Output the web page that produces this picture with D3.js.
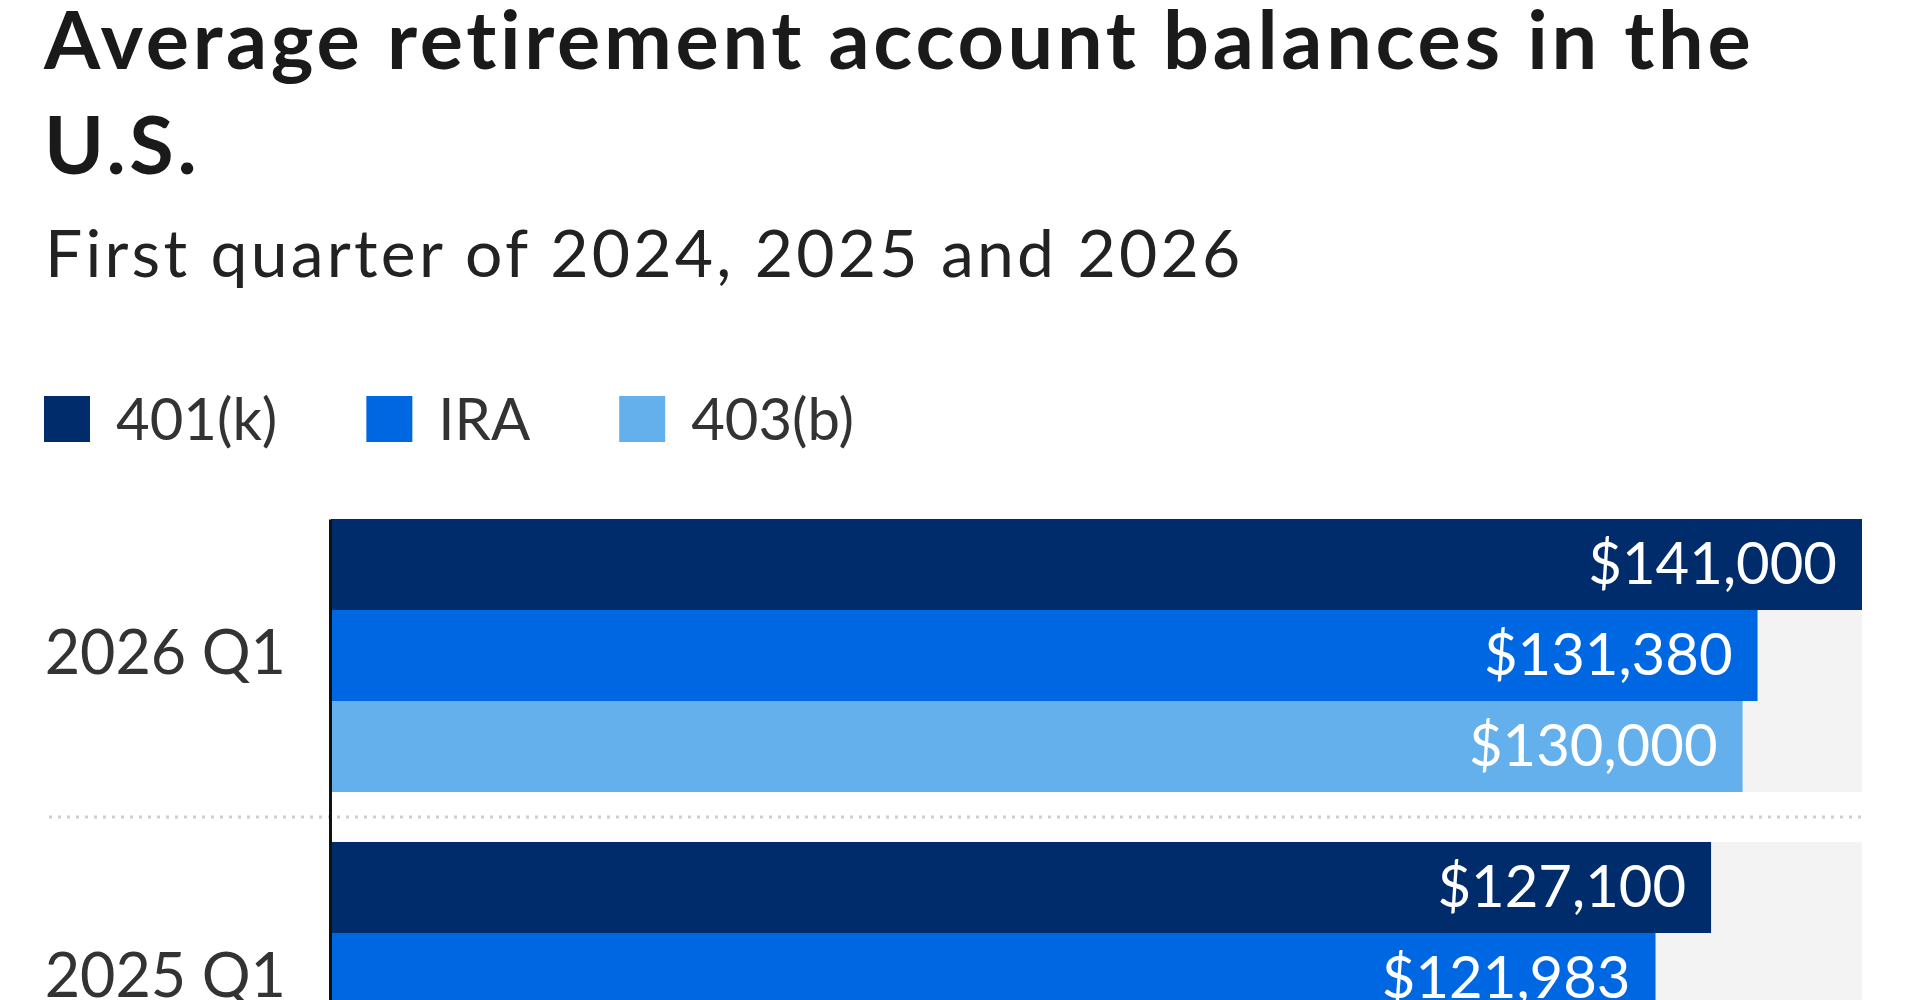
<!DOCTYPE html>
<html>
<head>
<meta charset="utf-8">
<script src="https://cdn.jsdelivr.net/npm/d3@7"></script>
<style>
  html, body { margin: 0; padding: 0; background: #fff; overflow: hidden; }
  svg { display: block; font-family: Lato, "Open Sans", sans-serif; }
</style>
</head>
<body>
<svg></svg>
<script>
// values (2025 Q1 403(b) falls below the visible area)
const categories = ["2026 Q1", "2025 Q1"];
const seriesNames = ["401(k)", "IRA", "403(b)"];
const k401 = [141000, 127100];
const ira = [131380, 121983];
const b403 = [130000, null];
const seriesColors = ["#002c6b", "#0067e2", "#63b0ec"];

const titleLines = ["Average retirement account balances in the", "U.S."];
const subtitle = "First quarter of 2024, 2025 and 2026";

const width = 1910,
      height = 1000,
      margin = { top: 519, right: 48, left: 331 };

const rows = categories.map((c, i) => ({
    category: c,
    values: [k401[i], ira[i], b403[i]]
}));

const x = d3.scaleLinear()
      .domain([0, d3.max(k401)])
      .range([margin.left, width - margin.right]);

const groupH = 273, gap = 50;
const y0 = d3.scaleBand()
      .domain(categories)
      .range([margin.top, margin.top + groupH * 2 + gap])
      .paddingInner(gap / (groupH + gap));

const y1 = d3.scaleBand()
      .domain(seriesNames)
      .range([0, y0.bandwidth()]);

const fmt = d3.format("$,");

const svg = d3.select("svg")
      .attr("width", width)
      .attr("height", height)
      .attr("viewBox", [0, 0, width, height]);

// title + subtitle
svg.append("text")
    .attr("x", 44)
    .attr("y", 69)
    .attr("fill", "#1a1a1a")
    .attr("font-size", 81)
    .attr("font-weight", 700)
    .attr("letter-spacing", 3.7)
    .selectAll("tspan")
    .data(titleLines)
    .join("tspan")
    .attr("x", 44)
    .attr("dy", (d, i) => i ? 105 : 0)
    .text(d => d);

svg.append("text")
    .attr("x", 45)
    .attr("y", 277)
    .attr("fill", "#222")
    .attr("font-size", 66)
    .attr("letter-spacing", 3.25)
    .text(subtitle);

// legend
const legend = svg.append("g");
let lx = 44;
seriesNames.forEach((name, i) => {
    legend.append("rect")
        .attr("x", lx).attr("y", 396)
        .attr("width", 46).attr("height", 46)
        .attr("fill", seriesColors[i]);
    const t = legend.append("text")
        .attr("x", lx + 72)
        .attr("y", 440)
        .attr("fill", "#333")
        .attr("font-size", 58)
        .text(name);
    lx += 72 + t.node().getComputedTextLength() + 89;
});

// groups
const groups = svg.append("g")
    .selectAll("g")
    .data(rows)
    .join("g")
    .attr("transform", d => `translate(0,${y0(d.category)})`);

groups.append("rect")
    .attr("x", x(0))
    .attr("width", x.range()[1] - x(0))
    .attr("height", y0.bandwidth())
    .attr("fill", "#f3f3f3");

const barData = d => seriesNames.map((s, i) => ({ s, i, v: d.values[i] })).filter(e => e.v != null);

groups.selectAll(".bar")
    .data(barData)
    .join("rect")
    .attr("class", "bar")
    .attr("x", x(0))
    .attr("y", e => y1(e.s))
    .attr("width", e => x(e.v) - x(0))
    .attr("height", y1.bandwidth())
    .attr("fill", e => seriesColors[e.i]);

groups.selectAll(".val")
    .data(barData)
    .join("text")
    .attr("class", "val")
    .attr("x", e => x(e.v) - 25)
    .attr("y", e => y1(e.s) + y1.bandwidth() / 2 + 19)
    .attr("text-anchor", "end")
    .attr("fill", "#fff")
    .attr("font-size", 58)
    .text(e => fmt(e.v));

// dotted separators between groups
svg.append("g")
    .selectAll("line")
    .data(categories.slice(1))
    .join("line")
    .attr("x1", 49)
    .attr("x2", x.range()[1])
    .attr("y1", d => y0(d) - gap / 2)
    .attr("y2", d => y0(d) - gap / 2)
    .attr("stroke", "#cfcfcf")
    .attr("stroke-width", 3)
    .attr("stroke-dasharray", "3 6");

// category axis
const yAxis = d3.axisLeft(y0).tickSize(0).tickPadding(44);
const yAx = svg.append("g")
    .attr("transform", `translate(${margin.left - 1},0)`)
    .call(yAxis);
yAx.select(".domain")
    .attr("stroke", "#111")
    .attr("stroke-width", 3);
yAx.selectAll(".tick text")
    .attr("font-family", "Lato, sans-serif")
    .attr("font-size", 61)
    .attr("fill", "#333")
    .attr("dy", "0.3em");
</script>
</body>
</html>
